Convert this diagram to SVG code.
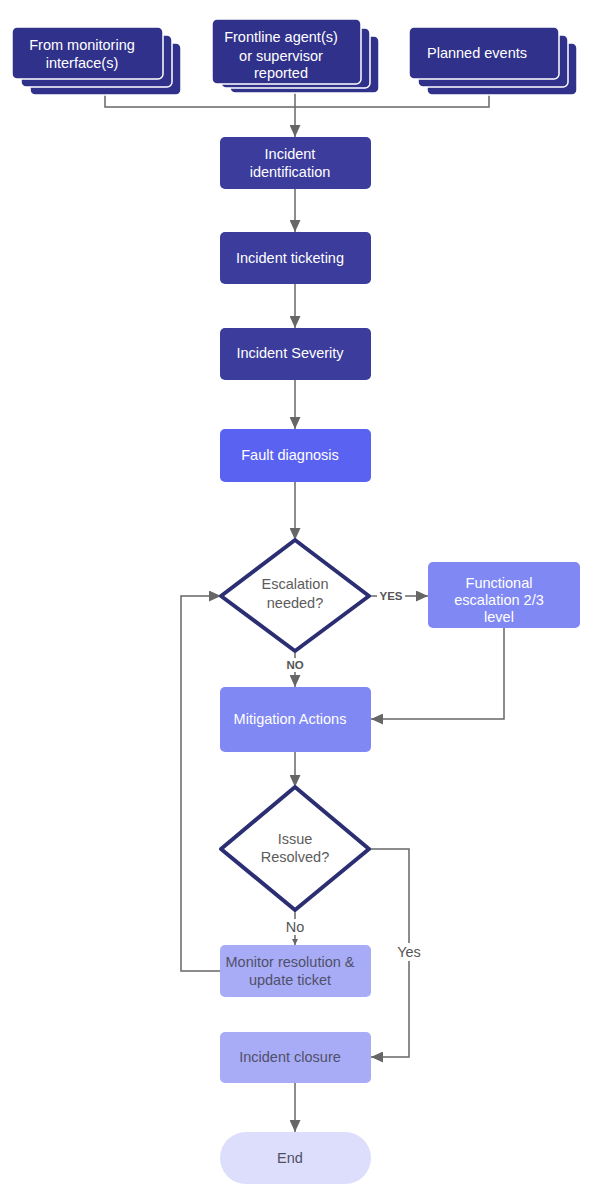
<svg xmlns="http://www.w3.org/2000/svg" width="600" height="1203" viewBox="0 0 600 1203">
<style>
text{font-family:"Liberation Sans",Arial,sans-serif;font-size:14.5px;text-anchor:middle;dominant-baseline:central}
.top{fill:#30318a;stroke:#ffffff;stroke-width:1.5}
.dark{fill:#3b3c9c}
.fault{fill:#5a62f2}
.mid{fill:#8088f4}
.light{fill:#a8acf6}
.end{fill:#dcdefb}
.w{fill:#ffffff}
.g{fill:#50506a}
.dia{fill:#ffffff;stroke:#2c2e73;stroke-width:4;stroke-linejoin:round}
.dt{fill:#5c5c5c}
.c{fill:none;stroke:#676767;stroke-width:1.5}
.lbl{fill:#555555;font-size:11.5px;font-weight:bold}
.lbl2{fill:#555555}
</style>
<defs>
<marker id="ah" markerUnits="userSpaceOnUse" markerWidth="12" markerHeight="11" refX="12" refY="5.5" orient="auto"><path d="M0,0 L12,5.5 L0,11 z" fill="#666666"/></marker>
<marker id="ahs" markerUnits="userSpaceOnUse" markerWidth="6" markerHeight="6" refX="6" refY="3" orient="auto"><path d="M0,0 L6,3 L0,6 z" fill="#666666"/></marker>
</defs>
<g id="connectors">
<path class="c" d="M105,95 V107 H489 V95"/>
<path class="c" d="M295,93 V137" marker-end="url(#ah)"/>
<path class="c" d="M295,189 V232" marker-end="url(#ah)"/>
<path class="c" d="M295,284 V328" marker-end="url(#ah)"/>
<path class="c" d="M295,380 V429" marker-end="url(#ah)"/>
<path class="c" d="M295,482 V540" marker-end="url(#ah)"/>
<path class="c" d="M369,596 H428" marker-end="url(#ah)"/>
<rect x="377" y="589" width="28" height="14" fill="#ffffff"/>
<text class="lbl" x="391" y="596">YES</text>
<path class="c" d="M295,651 V687" marker-end="url(#ah)"/>
<rect x="282" y="658" width="26" height="14" fill="#ffffff"/>
<text class="lbl" x="295" y="665">NO</text>
<path class="c" d="M504,628 V719 H371" marker-end="url(#ah)"/>
<path class="c" d="M295,752 V787" marker-end="url(#ah)"/>
<path class="c" d="M295,910 V945" marker-end="url(#ahs)"/>
<rect x="283" y="919" width="24" height="16" fill="#ffffff"/>
<text class="lbl2" x="295" y="927">No</text>
<path class="c" d="M220,971 H181 V596 H221" marker-end="url(#ah)"/>
<path class="c" d="M369,849 H409 V1057 H371" marker-end="url(#ah)"/>
<rect x="395" y="943" width="28" height="18" fill="#ffffff"/>
<text class="lbl2" x="409" y="952">Yes</text>
<path class="c" d="M295,1083 V1132" marker-end="url(#ah)"/>
</g>
<g id="src-monitoring">
<rect class="top" x="30" y="43" width="151" height="52" rx="5"/>
<rect class="top" x="21" y="35" width="151" height="52" rx="5"/>
<rect class="top" x="12" y="27" width="151" height="52" rx="5"/>
<text class="w" x="82" y="45">From monitoring</text>
<text class="w" x="82" y="63">interface(s)</text>
</g>
<g id="src-frontline">
<rect class="top" x="230" y="36" width="149" height="57" rx="5"/>
<rect class="top" x="221" y="28" width="149" height="60" rx="5"/>
<rect class="top" x="212" y="19" width="149" height="65" rx="5"/>
<text class="w" x="281" y="37">Frontline agent(s)</text>
<text class="w" x="281" y="56">or supervisor</text>
<text class="w" x="281" y="73">reported</text>
</g>
<g id="src-planned">
<rect class="top" x="427" y="43" width="150" height="52" rx="5"/>
<rect class="top" x="418" y="35" width="150" height="52" rx="5"/>
<rect class="top" x="409" y="27" width="150" height="52" rx="5"/>
<text class="w" x="477" y="53">Planned events</text>
</g>
<g id="incident-identification">
<rect class="dark" x="220" y="137" width="151" height="52" rx="5"/>
<text class="w" x="290" y="154">Incident</text>
<text class="w" x="290" y="172">identification</text>
</g>
<g id="incident-ticketing">
<rect class="dark" x="220" y="232" width="151" height="52" rx="5"/>
<text class="w" x="290" y="258">Incident ticketing</text>
</g>
<g id="incident-severity">
<rect class="dark" x="220" y="328" width="151" height="52" rx="5"/>
<text class="w" x="290" y="353">Incident Severity</text>
</g>
<g id="fault-diagnosis">
<rect class="fault" x="220" y="429" width="151" height="53" rx="5"/>
<text class="w" x="290" y="455">Fault diagnosis</text>
</g>
<g id="escalation-needed">
<polygon class="dia" points="295,540 369,596 295,651 221,596"/>
<text class="dt" x="295" y="584">Escalation</text>
<text class="dt" x="295" y="603">needed?</text>
</g>
<g id="functional-escalation">
<rect class="mid" x="428" y="562" width="152" height="66" rx="5"/>
<text class="w" x="499" y="583">Functional</text>
<text class="w" x="499" y="600">escalation 2/3</text>
<text class="w" x="499" y="617">level</text>
</g>
<g id="mitigation-actions">
<rect class="mid" x="220" y="687" width="151" height="65" rx="5"/>
<text class="w" x="290" y="719">Mitigation Actions</text>
</g>
<g id="issue-resolved">
<polygon class="dia" points="295,787 369,849 295,910 221,849"/>
<text class="dt" x="295" y="839">Issue</text>
<text class="dt" x="295" y="857">Resolved?</text>
</g>
<g id="monitor-resolution">
<rect class="light" x="220" y="945" width="151" height="52" rx="5"/>
<text class="g" x="290" y="962">Monitor resolution &amp;</text>
<text class="g" x="290" y="980">update ticket</text>
</g>
<g id="incident-closure">
<rect class="light" x="220" y="1032" width="151" height="51" rx="5"/>
<text class="g" x="290" y="1057">Incident closure</text>
</g>
<g id="end">
<rect class="end" x="220" y="1132" width="151" height="52" rx="26"/>
<text class="g" x="290" y="1158">End</text>
</g>
</svg>
